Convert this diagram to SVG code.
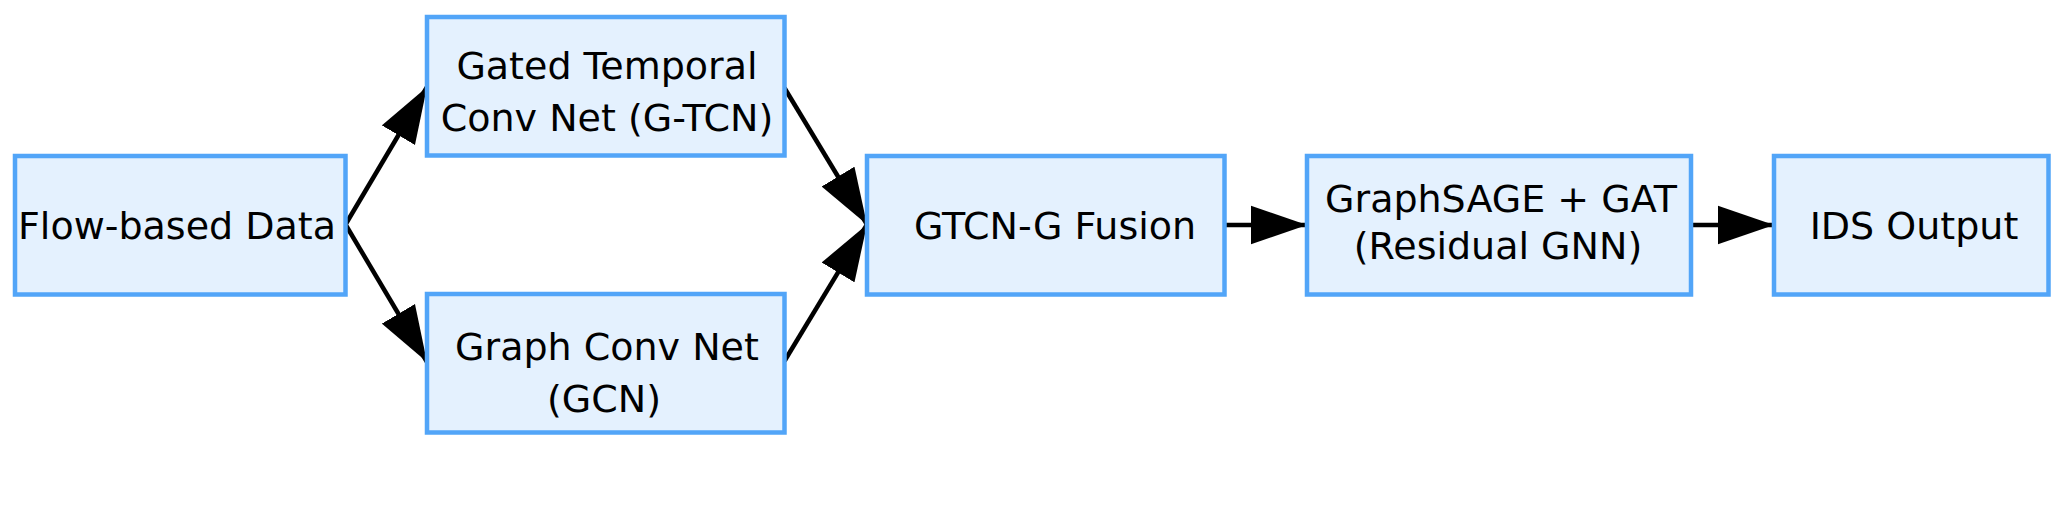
<svg xmlns="http://www.w3.org/2000/svg" width="2064" height="524" viewBox="0 0 2064 524">
<style>
.box{fill:#E4F1FE;stroke:#52A5F8;stroke-width:4.5}
.lbl{font-family:"DejaVu Sans",sans-serif;font-size:38px;fill:#000;text-anchor:middle}
.edge{stroke:#000;stroke-width:4.5;fill:none}
</style>
<defs>
<marker id="ah" markerUnits="userSpaceOnUse" markerWidth="56" markerHeight="40" viewBox="0 0 54 37" refX="54" refY="18.5" orient="auto">
<path d="M0,0 L54,18.5 L0,37 z" fill="#000"/>
</marker>
</defs>
<rect width="2064" height="524" fill="#fff"/>
<g id="connectors">
<line class="edge" x1="345.5" y1="224.5" x2="427" y2="87" marker-end="url(#ah)"/>
<line class="edge" x1="345.5" y1="224.5" x2="427" y2="362" marker-end="url(#ah)"/>
<line class="edge" x1="784.5" y1="88" x2="867" y2="224.5" marker-end="url(#ah)"/>
<line class="edge" x1="784.5" y1="361" x2="867" y2="224.5" marker-end="url(#ah)"/>
<line class="edge" x1="1224.5" y1="225" x2="1307" y2="225" marker-end="url(#ah)"/>
<line class="edge" x1="1691" y1="225" x2="1774" y2="225" marker-end="url(#ah)"/>
</g>
<g id="node-flow">
<rect class="box" x="15" y="156" width="330.5" height="138.5"/>
<text class="lbl" x="177" y="239">Flow-based Data</text>
</g>
<g id="node-gtcn">
<rect class="box" x="427" y="17" width="357.5" height="138.5"/>
<text class="lbl" x="607" y="79">Gated Temporal</text>
<text class="lbl" x="607" y="131">Conv Net (G-TCN)</text>
</g>
<g id="node-gcn">
<rect class="box" x="427" y="294" width="357.5" height="138.5"/>
<text class="lbl" x="607" y="360">Graph Conv Net</text>
<text class="lbl" x="604" y="412">(GCN)</text>
</g>
<g id="node-fusion">
<rect class="box" x="867" y="156" width="357.5" height="138.5"/>
<text class="lbl" x="1055" y="239">GTCN-G Fusion</text>
</g>
<g id="node-sage">
<rect class="box" x="1307" y="156" width="384" height="138.5"/>
<text class="lbl" x="1501" y="212">GraphSAGE + GAT</text>
<text class="lbl" x="1498" y="259">(Residual GNN)</text>
</g>
<g id="node-ids">
<rect class="box" x="1774" y="156" width="274.5" height="138.5"/>
<text class="lbl" x="1914" y="239">IDS Output</text>
</g>
</svg>
